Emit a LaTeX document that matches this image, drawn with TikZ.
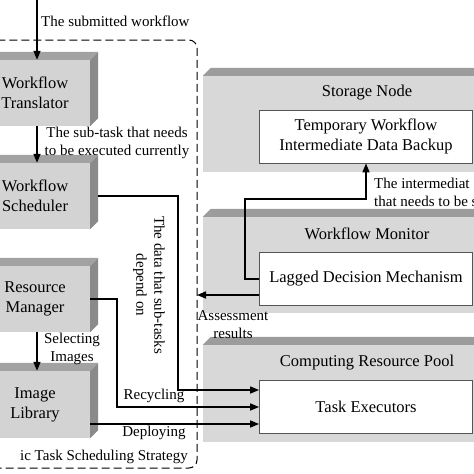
\documentclass[tikz,border=0pt]{standalone}
\usepackage{fontspec}
\setmainfont{Liberation Serif}
\usetikzlibrary{arrows.meta}
\definecolor{frontc}{HTML}{D3D3D3}
\definecolor{topc}{HTML}{A2A2A2}
\definecolor{sidec}{HTML}{8A8A8A}
\definecolor{panelc}{HTML}{D8D8D8}
\definecolor{ptopc}{HTML}{9C9C9C}
\definecolor{edgec}{HTML}{555555}
\newcommand\boxfaces[1]{%
  \fill[topc] (#1.north west) -- ++(8,-8) -- ([shift={(8,-8)}]#1.north east) -- (#1.north east) -- cycle;
  \fill[sidec] (#1.north east) -- ++(8,-8) -- ([shift={(8,-8)}]#1.south east) -- (#1.south east) -- cycle;}
\newcommand\paneltop[1]{%
  \fill[ptopc] (#1.north west) -- ++(8,-8) -- ([shift={(8,-8)}]#1.north east) -- (#1.north east) -- cycle;}
\begin{document}
\begin{tikzpicture}[x=1pt,y=-1pt,
  bigfont/.style={font=\fontsize{16.5}{20}\selectfont},
  smallfont/.style={font=\fontsize{15}{18}\selectfont},
  box3d/.style={fill=frontc, minimum width=110pt, minimum height=66pt, inner sep=0pt, align=center, bigfont},
  panel/.style={fill=panelc, minimum width=277pt, minimum height=96pt, inner sep=0pt},
  whitebox/.style={draw=edgec, line width=0.8pt, fill=white, minimum width=213pt, minimum height=53pt, inner sep=0pt, align=center, bigfont},
  title/.style={bigfont, inner sep=0pt},
  lbl/.style={smallfont, inner sep=0pt, align=center},
  arr/.style={line width=1.5pt, -{Triangle[length=9pt,width=7pt]}},
  conn/.style={line width=1.5pt},
  strategy/.style={dashed, dash pattern=on 8pt off 4pt, line width=1pt, rounded corners=8pt}]
\useasboundingbox (0,0) rectangle (474,474);
\clip (0,0) rectangle (474,474);
% right panels
\node[panel] (stor) at (341.5,124) {};
\paneltop{stor}
\node[panel] (mon) at (341.5,265) {};
\paneltop{mon}
\node[panel, minimum height=97pt] (pool) at (341.5,393.5) {};
\paneltop{pool}
\node[title] (storT) at (367,93) {Storage Node};
\node[title] (monT) at (367,234) {Workflow Monitor};
\node[title] (poolT) at (367,363) {Computing Resource Pool};
\node[whitebox] (backup) at (366,136.5) {Temporary Workflow\\Intermediate Data Backup};
\node[whitebox] (lag) at (366,279) {Lagged Decision Mechanism};
\node[whitebox] (exec) at (366,406.5) {Task Executors};
% left boxes
\node[box3d] (trans) at (35,93) {Workflow\\Translator};
\boxfaces{trans}
\node[box3d] (sched) at (35,196) {Workflow\\Scheduler};
\boxfaces{sched}
\node[box3d] (rm) at (35,299) {Resource\\Manager};
\boxfaces{rm}
\node[box3d, minimum height=67pt] (lib) at (35,404.5) {Image\\Library};
\boxfaces{lib}
% dashed strategy region
\draw[strategy] (-10,40) rectangle (197,468);
\node[lbl, anchor=east] (stratT) at (188,457) {ic Task Scheduling Strategy};
% coordinates
\coordinate (in) at (37,0);
\coordinate (b1) at (178,390);
\coordinate (b2) at (117,407);
\coordinate (b3) at (100,424);
\coordinate (b4) at (245,199);
\coordinate (b5) at (197,295);
% connectors
\draw[arr] (in) -- (in |- trans.north);
\draw[arr] ([xshift=2pt]trans.south) -- ([xshift=2pt]sched.north);
\draw[arr] ([xshift=2pt]rm.south) -- ([xshift=2pt]lib.north);
\draw[arr] ([xshift=8pt]sched.east) -| (b1) -- (b1 -| exec.west);
\draw[arr] (rm.east) -| (b2) -- (b2 -| exec.west);
\draw[arr] (b3 -| lib.east) -- (b3 -| exec.west);
\draw[arr] (lag.west) -| (b4) -| (backup.south);
\draw[arr] (b5 -| lag.west) -- (b5);
% labels
\node[lbl, anchor=west] (l1) at (41,21) {The submitted workflow};
\node[lbl] (l2) at (117,142.5) {The sub-task that needs\\to be executed currently};
\node[lbl] (l3) at (72,349) {Selecting\\Images};
\node[lbl] (l4) at (154,396) {Recycling};
\node[lbl] (l5) at (154,433) {Deploying};
\node[lbl, rotate=-90] (l6) at (149,285) {The data that sub-tasks\\depend on};
\node[lbl] (l7) at (233,325) {Assessment\\results};
\node[lbl, anchor=west, align=left] (l8) at (374,192) {The intermediat\\that needs to be s};
\end{tikzpicture}
\end{document}
